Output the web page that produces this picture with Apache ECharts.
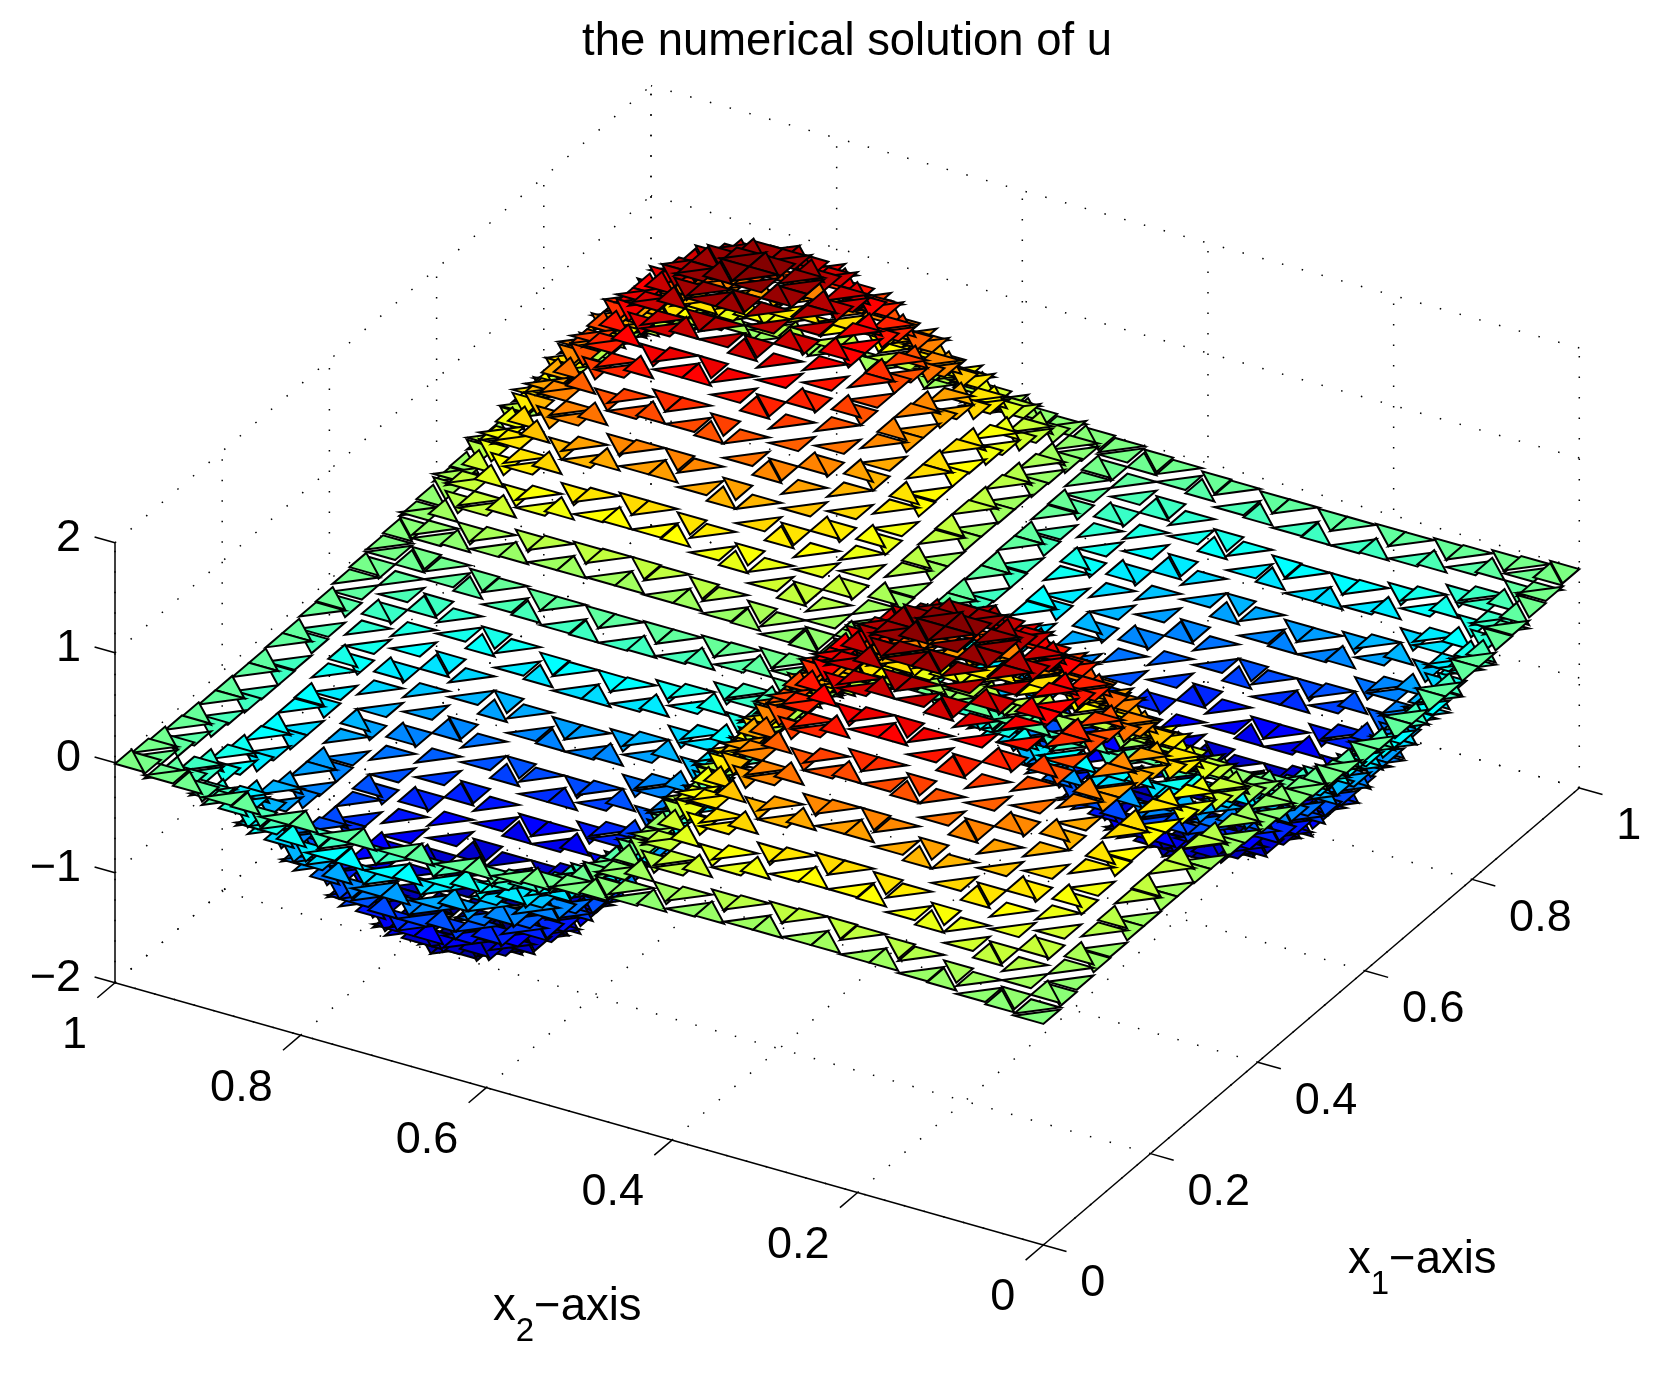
<!DOCTYPE html>
<html>
<head>
<meta charset="utf-8">
<title>the numerical solution of u</title>
<script src="https://cdn.jsdelivr.net/npm/echarts@6/dist/echarts.min.js"></script>
<style>
  html, body { margin: 0; background: #fff; }
  #chart { width: 1672px; height: 1376px; }
</style>
</head>
<body>
<div id="chart"></div>
<script>
const x1Ticks = [0, 0.2, 0.4, 0.6, 0.8, 1];
const x2Ticks = [0, 0.2, 0.4, 0.6, 0.8, 1];
const zTicks = [-2, -1, 0, 1, 2];
const x1TickLabels = ["0", "0.2", "0.4", "0.6", "0.8", "1"];
const x2TickLabels = ["0", "0.2", "0.4", "0.6", "0.8", "1"];
const zTickLabels = ["\u22122", "\u22121", "0", "1", "2"];
const meshSize = 32;

// u x 100 per triangle, one row per strip of the mesh along x1, one column per cell along x2
const uLower = [
[1,4,6,9,10,12,12,13,13,12,12,10,9,6,4,1,-1,-4,-6,-9,-10,-12,-12,-13,-13,-12,-12,-10,-9,-6,-4,-1],
[7,13,26,32,41,45,50,51,51,50,45,41,32,26,13,7,-7,-13,-26,-32,-41,-45,-50,-51,-51,-50,-45,-41,-32,-26,-13,-7],
[6,28,39,58,66,79,84,88,88,84,79,66,58,39,28,6,-6,-28,-39,-58,-66,-79,-84,-88,-88,-84,-79,-66,-58,-39,-28,-6],
[16,32,61,74,97,105,118,121,121,118,105,97,74,61,32,16,-16,-32,-61,-74,-97,-105,-118,-121,-121,-118,-105,-97,-74,-61,-32,-16],
[10,48,66,99,113,135,142,150,150,142,135,113,99,66,48,10,-10,-48,-66,-99,-113,-135,-142,-150,-150,-142,-135,-113,-99,-66,-48,-10],
[23,45,87,105,137,150,167,172,172,167,150,137,105,87,45,23,-23,-45,-87,-105,-137,-150,-167,-172,-172,-167,-150,-137,-105,-87,-45,-23],
[12,61,84,125,142,170,179,189,189,179,170,142,125,84,61,12,-12,-61,-84,-125,-142,-170,-179,-189,-189,-179,-170,-142,-125,-84,-61,-12],
[26,51,99,121,157,172,191,196,196,191,172,157,121,99,51,26,-26,-51,-99,-121,-157,-172,-191,-196,-196,-191,-172,-157,-121,-99,-51,-26],
[13,64,88,132,150,179,189,199,199,189,179,150,132,88,64,13,-13,-64,-88,-132,-150,-179,-189,-199,-199,-189,-179,-150,-132,-88,-64,-13],
[25,50,97,118,153,167,187,191,191,187,167,153,118,97,50,25,-25,-50,-97,-118,-153,-167,-187,-191,-191,-187,-167,-153,-118,-97,-50,-25],
[12,58,79,118,135,161,170,179,179,170,161,135,118,79,58,12,-12,-58,-79,-118,-135,-161,-170,-179,-179,-170,-161,-135,-118,-79,-58,-12],
[21,41,79,97,126,137,153,157,157,153,137,126,97,79,41,21,-21,-41,-79,-97,-126,-137,-153,-157,-157,-153,-137,-126,-97,-79,-41,-21],
[9,42,58,87,99,118,125,132,132,125,118,99,87,58,42,9,-9,-42,-58,-87,-99,-118,-125,-132,-132,-125,-118,-99,-87,-58,-42,-9],
[13,26,50,61,79,87,97,99,99,97,87,79,61,50,26,13,-13,-26,-50,-61,-79,-87,-97,-99,-99,-97,-87,-79,-61,-50,-26,-13],
[4,21,28,42,48,58,61,64,64,61,58,48,42,28,21,4,-4,-21,-28,-42,-48,-58,-61,-64,-64,-61,-58,-48,-42,-28,-21,-4],
[3,7,13,16,21,23,25,26,26,25,23,21,16,13,7,3,-3,-7,-13,-16,-21,-23,-25,-26,-26,-25,-23,-21,-16,-13,-7,-3],
[-1,-4,-6,-9,-10,-12,-12,-13,-13,-12,-12,-10,-9,-6,-4,-1,1,4,6,9,10,12,12,13,13,12,12,10,9,6,4,1],
[-7,-13,-26,-32,-41,-45,-50,-51,-51,-50,-45,-41,-32,-26,-13,-7,7,13,26,32,41,45,50,51,51,50,45,41,32,26,13,7],
[-6,-28,-39,-58,-66,-79,-84,-88,-88,-84,-79,-66,-58,-39,-28,-6,6,28,39,58,66,79,84,88,88,84,79,66,58,39,28,6],
[-16,-32,-61,-74,-97,-105,-118,-121,-121,-118,-105,-97,-74,-61,-32,-16,16,32,61,74,97,105,118,121,121,118,105,97,74,61,32,16],
[-10,-48,-66,-99,-113,-135,-142,-150,-150,-142,-135,-113,-99,-66,-48,-10,10,48,66,99,113,135,142,150,150,142,135,113,99,66,48,10],
[-23,-45,-87,-105,-137,-150,-167,-172,-172,-167,-150,-137,-105,-87,-45,-23,23,45,87,105,137,150,167,172,172,167,150,137,105,87,45,23],
[-12,-61,-84,-125,-142,-170,-179,-189,-189,-179,-170,-142,-125,-84,-61,-12,12,61,84,125,142,170,179,189,189,179,170,142,125,84,61,12],
[-26,-51,-99,-121,-157,-172,-191,-196,-196,-191,-172,-157,-121,-99,-51,-26,26,51,99,121,157,172,191,196,196,191,172,157,121,99,51,26],
[-13,-64,-88,-132,-150,-179,-189,-199,-199,-189,-179,-150,-132,-88,-64,-13,13,64,88,132,150,179,189,199,199,189,179,150,132,88,64,13],
[-25,-50,-97,-118,-153,-167,-187,-191,-191,-187,-167,-153,-118,-97,-50,-25,25,50,97,118,153,167,187,191,191,187,167,153,118,97,50,25],
[-12,-58,-79,-118,-135,-161,-170,-179,-179,-170,-161,-135,-118,-79,-58,-12,12,58,79,118,135,161,170,179,179,170,161,135,118,79,58,12],
[-21,-41,-79,-97,-126,-137,-153,-157,-157,-153,-137,-126,-97,-79,-41,-21,21,41,79,97,126,137,153,157,157,153,137,126,97,79,41,21],
[-9,-42,-58,-87,-99,-118,-125,-132,-132,-125,-118,-99,-87,-58,-42,-9,9,42,58,87,99,118,125,132,132,125,118,99,87,58,42,9],
[-13,-26,-50,-61,-79,-87,-97,-99,-99,-97,-87,-79,-61,-50,-26,-13,13,26,50,61,79,87,97,99,99,97,87,79,61,50,26,13],
[-4,-21,-28,-42,-48,-58,-61,-64,-64,-61,-58,-48,-42,-28,-21,-4,4,21,28,42,48,58,61,64,64,61,58,48,42,28,21,4],
[-3,-7,-13,-16,-21,-23,-25,-26,-26,-25,-23,-21,-16,-13,-7,-3,3,7,13,16,21,23,25,26,26,25,23,21,16,13,7,3]
];
const uUpper = [
[3,7,13,16,21,23,25,26,26,25,23,21,16,13,7,3,-3,-7,-13,-16,-21,-23,-25,-26,-26,-25,-23,-21,-16,-13,-7,-3],
[4,21,28,42,48,58,61,64,64,61,58,48,42,28,21,4,-4,-21,-28,-42,-48,-58,-61,-64,-64,-61,-58,-48,-42,-28,-21,-4],
[13,26,50,61,79,87,97,99,99,97,87,79,61,50,26,13,-13,-26,-50,-61,-79,-87,-97,-99,-99,-97,-87,-79,-61,-50,-26,-13],
[9,42,58,87,99,118,125,132,132,125,118,99,87,58,42,9,-9,-42,-58,-87,-99,-118,-125,-132,-132,-125,-118,-99,-87,-58,-42,-9],
[21,41,79,97,126,137,153,157,157,153,137,126,97,79,41,21,-21,-41,-79,-97,-126,-137,-153,-157,-157,-153,-137,-126,-97,-79,-41,-21],
[12,58,79,118,135,161,170,179,179,170,161,135,118,79,58,12,-12,-58,-79,-118,-135,-161,-170,-179,-179,-170,-161,-135,-118,-79,-58,-12],
[25,50,97,118,153,167,187,191,191,187,167,153,118,97,50,25,-25,-50,-97,-118,-153,-167,-187,-191,-191,-187,-167,-153,-118,-97,-50,-25],
[13,64,88,132,150,179,189,199,199,189,179,150,132,88,64,13,-13,-64,-88,-132,-150,-179,-189,-199,-199,-189,-179,-150,-132,-88,-64,-13],
[26,51,99,121,157,172,191,196,196,191,172,157,121,99,51,26,-26,-51,-99,-121,-157,-172,-191,-196,-196,-191,-172,-157,-121,-99,-51,-26],
[12,61,84,125,142,170,179,189,189,179,170,142,125,84,61,12,-12,-61,-84,-125,-142,-170,-179,-189,-189,-179,-170,-142,-125,-84,-61,-12],
[23,45,87,105,137,150,167,172,172,167,150,137,105,87,45,23,-23,-45,-87,-105,-137,-150,-167,-172,-172,-167,-150,-137,-105,-87,-45,-23],
[10,48,66,99,113,135,142,150,150,142,135,113,99,66,48,10,-10,-48,-66,-99,-113,-135,-142,-150,-150,-142,-135,-113,-99,-66,-48,-10],
[16,32,61,74,97,105,118,121,121,118,105,97,74,61,32,16,-16,-32,-61,-74,-97,-105,-118,-121,-121,-118,-105,-97,-74,-61,-32,-16],
[6,28,39,58,66,79,84,88,88,84,79,66,58,39,28,6,-6,-28,-39,-58,-66,-79,-84,-88,-88,-84,-79,-66,-58,-39,-28,-6],
[7,13,26,32,41,45,50,51,51,50,45,41,32,26,13,7,-7,-13,-26,-32,-41,-45,-50,-51,-51,-50,-45,-41,-32,-26,-13,-7],
[1,4,6,9,10,12,12,13,13,12,12,10,9,6,4,1,-1,-4,-6,-9,-10,-12,-12,-13,-13,-12,-12,-10,-9,-6,-4,-1],
[-3,-7,-13,-16,-21,-23,-25,-26,-26,-25,-23,-21,-16,-13,-7,-3,3,7,13,16,21,23,25,26,26,25,23,21,16,13,7,3],
[-4,-21,-28,-42,-48,-58,-61,-64,-64,-61,-58,-48,-42,-28,-21,-4,4,21,28,42,48,58,61,64,64,61,58,48,42,28,21,4],
[-13,-26,-50,-61,-79,-87,-97,-99,-99,-97,-87,-79,-61,-50,-26,-13,13,26,50,61,79,87,97,99,99,97,87,79,61,50,26,13],
[-9,-42,-58,-87,-99,-118,-125,-132,-132,-125,-118,-99,-87,-58,-42,-9,9,42,58,87,99,118,125,132,132,125,118,99,87,58,42,9],
[-21,-41,-79,-97,-126,-137,-153,-157,-157,-153,-137,-126,-97,-79,-41,-21,21,41,79,97,126,137,153,157,157,153,137,126,97,79,41,21],
[-12,-58,-79,-118,-135,-161,-170,-179,-179,-170,-161,-135,-118,-79,-58,-12,12,58,79,118,135,161,170,179,179,170,161,135,118,79,58,12],
[-25,-50,-97,-118,-153,-167,-187,-191,-191,-187,-167,-153,-118,-97,-50,-25,25,50,97,118,153,167,187,191,191,187,167,153,118,97,50,25],
[-13,-64,-88,-132,-150,-179,-189,-199,-199,-189,-179,-150,-132,-88,-64,-13,13,64,88,132,150,179,189,199,199,189,179,150,132,88,64,13],
[-26,-51,-99,-121,-157,-172,-191,-196,-196,-191,-172,-157,-121,-99,-51,-26,26,51,99,121,157,172,191,196,196,191,172,157,121,99,51,26],
[-12,-61,-84,-125,-142,-170,-179,-189,-189,-179,-170,-142,-125,-84,-61,-12,12,61,84,125,142,170,179,189,189,179,170,142,125,84,61,12],
[-23,-45,-87,-105,-137,-150,-167,-172,-172,-167,-150,-137,-105,-87,-45,-23,23,45,87,105,137,150,167,172,172,167,150,137,105,87,45,23],
[-10,-48,-66,-99,-113,-135,-142,-150,-150,-142,-135,-113,-99,-66,-48,-10,10,48,66,99,113,135,142,150,150,142,135,113,99,66,48,10],
[-16,-32,-61,-74,-97,-105,-118,-121,-121,-118,-105,-97,-74,-61,-32,-16,16,32,61,74,97,105,118,121,121,118,105,97,74,61,32,16],
[-6,-28,-39,-58,-66,-79,-84,-88,-88,-84,-79,-66,-58,-39,-28,-6,6,28,39,58,66,79,84,88,88,84,79,66,58,39,28,6],
[-7,-13,-26,-32,-41,-45,-50,-51,-51,-50,-45,-41,-32,-26,-13,-7,7,13,26,32,41,45,50,51,51,50,45,41,32,26,13,7],
[-1,-4,-6,-9,-10,-12,-12,-13,-13,-12,-12,-10,-9,-6,-4,-1,1,4,6,9,10,12,12,13,13,12,12,10,9,6,4,1]
];

const FONT = '"Liberation Sans", Arial, Helvetica, sans-serif';

// fixed camera of the original 3D axes, the 2D axes below are in canvas pixels
function project(x1, x2, z) {
  return [
    1043.3 + 536 * x1 - 928.3 * x2,
    1245 - 457 * x1 - 262.3 * x2 - 110 * (z + 2)
  ];
}

function depth(x1, x2, z) {
  return -807 * x1 - 466 * x2 + 62 * z;
}

function buildTriangles() {
  const h = 1 / meshSize;
  const out = [];
  for (let j = 0; j < meshSize; j++) {
    for (let i = 0; i < meshSize; i++) {
      // [x1 index, x2 index] of each corner, cells alternate their diagonal
      const lower = (i + j) % 2 === 0
        ? [[j, i], [j, i + 1], [j + 1, i]]
        : [[j, i], [j, i + 1], [j + 1, i + 1]];
      const upper = (i + j) % 2 === 0
        ? [[j, i + 1], [j + 1, i], [j + 1, i + 1]]
        : [[j, i], [j + 1, i + 1], [j + 1, i]];
      out.push({ nodes: lower, u: uLower[j][i] / 100 });
      out.push({ nodes: upper, u: uUpper[j][i] / 100 });
    }
  }
  out.forEach((tri) => {
    tri.corners = tri.nodes.map((n) => [n[0] * h, n[1] * h]);
    const c1 = (tri.corners[0][0] + tri.corners[1][0] + tri.corners[2][0]) / 3;
    const c2 = (tri.corners[0][1] + tri.corners[1][1] + tri.corners[2][1]) / 3;
    tri.depth = depth(c1, c2, tri.u);
  });
  return out.sort((a, b) => a.depth - b.depth);
}

const triangles = buildTriangles();

function gridSegments() {
  const rows = [];
  x1Ticks.forEach((t) => {
    rows.push([t, 0, -2, t, 1, -2]);
    rows.push([t, 1, -2, t, 1, 2]);
  });
  x2Ticks.forEach((t) => {
    rows.push([0, t, -2, 1, t, -2]);
    rows.push([1, t, -2, 1, t, 2]);
  });
  zTicks.forEach((t) => {
    rows.push([0, 1, t, 1, 1, t]);
    rows.push([1, 0, t, 1, 1, t]);
  });
  return rows;
}

function axisSegments() {
  const rows = [
    [0, 0, -2, 1, 0, -2],
    [0, 0, -2, 0, 1, -2],
    [0, 1, -2, 0, 1, 2]
  ];
  x1Ticks.forEach((t) => rows.push([t, 0, -2, t, -0.025, -2]));
  x2Ticks.forEach((t) => rows.push([0, t, -2, -0.033, t, -2]));
  zTicks.forEach((t) => rows.push([0, 1, t, 0, 1.022, t]));
  return rows;
}

function tickLabelRows() {
  const rows = [];
  x1Ticks.forEach((t, i) => rows.push([t, 0, -2, 0, i]));
  x2Ticks.forEach((t, i) => rows.push([0, t, -2, 1, i]));
  zTicks.forEach((t, i) => rows.push([0, 1, t, 2, i]));
  return rows;
}

const labelSets = [x1TickLabels, x2TickLabels, zTickLabels];
const labelOffsets = [
  { dx: 37, dy: 39, align: "left" },
  { dx: -28, dy: 53, align: "right" },
  { dx: -34, dy: -4, align: "right" }
];

function renderSegment(style) {
  return (params, api) => {
    const a = project(api.value(0), api.value(1), api.value(2));
    const b = project(api.value(3), api.value(4), api.value(5));
    const p = api.coord(a);
    const q = api.coord(b);
    return {
      type: "line",
      shape: { x1: p[0], y1: p[1], x2: q[0], y2: q[1] },
      style
    };
  };
}

function renderTickLabel(params, api) {
  const set = api.value(3);
  const off = labelOffsets[set];
  const p = api.coord(project(api.value(0), api.value(1), api.value(2)));
  return {
    type: "text",
    x: p[0] + off.dx,
    y: p[1] + off.dy,
    style: {
      text: labelSets[set][api.value(4)],
      font: `45px ${FONT}`,
      fill: "#000",
      align: off.align,
      verticalAlign: "middle"
    }
  };
}

function renderTriangle(params, api) {
  const index = api.value(0);
  const tri = triangles[index];
  return {
    type: "polygon",
    z2: index,
    shape: {
      points: tri.corners.map((c) => api.coord(project(c[0], c[1], tri.u)))
    },
    style: {
      fill: api.visual("color"),
      stroke: "#000",
      lineWidth: 2,
      lineJoin: "miter",
      miterLimit: 5
    }
  };
}

function axisTitle(sub, left, top) {
  return {
    type: "text",
    left,
    top,
    silent: true,
    style: {
      text: `{a|x}{s|${sub}}{a|\u2212axis}`,
      rich: {
        a: { font: `45.5px ${FONT}`, fill: "#000", verticalAlign: "top" },
        s: { font: `33px ${FONT}`, fill: "#000", verticalAlign: "bottom", lineHeight: 64 }
      }
    }
  };
}

const chart = echarts.init(document.getElementById("chart"), null, { renderer: "canvas" });

chart.setOption({
  animation: false,
  backgroundColor: "#fff",
  title: {
    text: "the numerical solution of u",
    left: 842,
    top: 15,
    textAlign: "center",
    textStyle: { color: "#000", fontFamily: FONT, fontSize: 45.4, fontWeight: "normal" }
  },
  grid: { left: 0, right: 0, top: 0, bottom: 0 },
  xAxis: { type: "value", min: 0, max: 1672, show: false },
  yAxis: { type: "value", min: 0, max: 1376, inverse: true, show: false },
  visualMap: {
    type: "continuous",
    show: false,
    seriesIndex: 2,
    dimension: 1,
    min: -2,
    max: 2,
    inRange: {
      color: ["#000080", "#0000ff", "#0080ff", "#00ffff", "#80ff80", "#ffff00", "#ff8000", "#ff0000", "#800000"]
    }
  },
  graphic: [axisTitle("1", 1348, 1237), axisTitle("2", 493, 1284)],
  series: [
    {
      type: "custom",
      silent: true,
      clip: false,
      renderItem: renderSegment({ stroke: "#000", lineWidth: 1.5, lineDash: [1.5, 19] }),
      data: gridSegments()
    },
    {
      type: "custom",
      silent: true,
      clip: false,
      renderItem: renderSegment({ stroke: "#000", lineWidth: 1.5 }),
      data: axisSegments()
    },
    {
      type: "custom",
      silent: true,
      clip: false,
      progressive: 0,
      renderItem: renderTriangle,
      data: triangles.map((tri, index) => [index, tri.u])
    },
    {
      type: "custom",
      silent: true,
      clip: false,
      renderItem: renderTickLabel,
      data: tickLabelRows()
    }
  ]
});
</script>
</body>
</html>
